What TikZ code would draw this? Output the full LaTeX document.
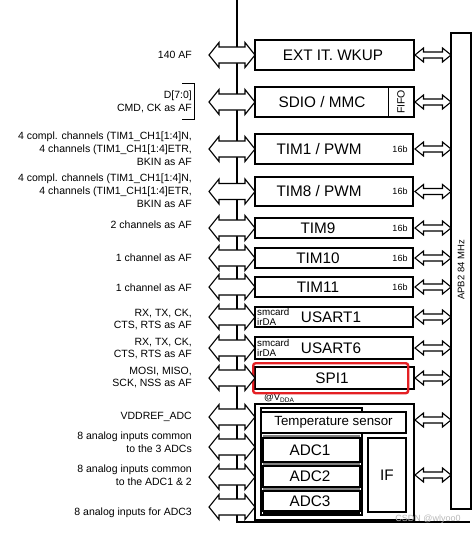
\documentclass[tikz,border=0pt]{standalone}
\usepackage{fontspec}
\setmainfont{Liberation Sans}
\usetikzlibrary{calc}
\definecolor{hred}{RGB}{228,32,36}
\definecolor{wm}{RGB}{185,185,185}
\tikzset{
  box/.style={draw, line width=1.2pt, fill=white, anchor=north west, inner sep=0pt, outer sep=0pt},
  btext/.style={inner sep=0pt, font=\fontsize{15.3}{15.3}\selectfont},
  lbl/.style={inner sep=0pt, anchor=east, align=right, font=\fontsize{10.5}{12.8}\selectfont},
  tiny/.style={inner sep=0pt, font=\fontsize{9}{9}\selectfont},
  smc/.style={inner sep=0pt, anchor=west, align=left, font=\fontsize{9.8}{9.8}\selectfont},
  blockarrow/.style={draw, fill=white, line width=1.1pt, line join=miter},
}
% double block arrow: from, to, head length, head half-height, shaft half-height
\newcommand\darrow[5]{%
  \path[blockarrow] let \p1=(#1), \p2=(#2) in
    (\x1,\y1) -- (\x1+#3,\y1+#4) -- (\x1+#3,\y1+#5) -- (\x2-#3,\y1+#5) --
    (\x2-#3,\y1+#4) -- (\x2,\y1) -- (\x2-#3,\y1-#4) -- (\x2-#3,\y1-#5) --
    (\x1+#3,\y1-#5) -- (\x1+#3,\y1-#4) -- cycle;}
\newcommand\leftarr[2]{\darrow{#1}{#2}{10pt}{12.5pt}{8pt}}
\newcommand\rightarr[2]{\darrow{#1}{#2}{8.5pt}{7pt}{3pt}}
\begin{document}
\begin{tikzpicture}[x=1pt,y=-1pt]
\useasboundingbox (0,0) rectangle (474,533);
% bus
\coordinate (bustop) at (237,0);
\coordinate (buscorner) at (237,522);
\coordinate (busend) at (470,522);
\draw[line width=1.8pt] (bustop) -- (buscorner) -- (busend);
% APB2 bar
\node[box, minimum width=20pt, minimum height=476pt] (apb) at (451,33) {};
\node[rotate=90, inner sep=0pt, font=\fontsize{9.5}{9.5}\selectfont] (apbl) at (461,270) {APB2 84 MHz};

% boxes
\node[box, minimum width=159pt, minimum height=30pt] (ext) at (255,40) {};
\node[box, minimum width=159pt, minimum height=30pt] (sdio) at (255,87) {};
\node[box, minimum width=158pt, minimum height=30pt] (tim1) at (255,134) {};
\node[box, minimum width=158pt, minimum height=29pt] (tim8) at (255,177) {};
\node[box, minimum width=158pt, minimum height=20pt] (tim9) at (255,218) {};
\node[box, minimum width=158pt, minimum height=20pt] (tim10) at (255,248) {};
\node[box, minimum width=158pt, minimum height=20pt] (tim11) at (255,277) {};
\node[box, minimum width=158pt, minimum height=20pt] (usart1) at (255,307) {};
\node[box, minimum width=158pt, minimum height=22pt] (usart6) at (255,337) {};
\node[box, minimum width=159pt, minimum height=22pt] (spi1) at (255,367) {};
\node[box, minimum width=159pt, minimum height=116pt] (adc) at (255,404) {};

% box texts
\node[btext] (t-ext) at (333,55) {EXT IT. WKUP};
\node[btext] (t-sdio) at (322,102) {SDIO / MMC};
\coordinate (fifotop) at (388,87);
\coordinate (fifobot) at (388,117);
\draw[line width=1pt] (fifotop) -- (fifobot);
\node[rotate=90, inner sep=0pt, font=\fontsize{10.5}{10.5}\selectfont] (fifo) at (401,102) {FIFO};
\node[btext] (t-tim1) at (319,149) {TIM1 / PWM};
\node[btext] (t-tim8) at (319,191.5) {TIM8 / PWM};
\node[btext] (t-tim9) at (318,228) {TIM9};
\node[btext] (t-tim10) at (318,258) {TIM10};
\node[btext] (t-tim11) at (318,287) {TIM11};
\node[btext] (t-usart1) at (331,317) {USART1};
\node[btext] (t-usart6) at (331,348) {USART6};
\node[btext] (t-spi1) at (332,378) {SPI1};
\foreach \k/\y in {b1/149,b8/191.5,b9/228,b10/258,b11/287}
  \node[tiny] (\k) at (400,\y) {16b};
\node[smc] (sm1) at (257,317) {smcard\\irDA};
\node[smc] (sm6) at (257,348) {smcard\\irDA};

% ADC block
\node[box, minimum width=101pt, minimum height=107pt] (adcstack) at (261,408) {};
\node[box, minimum width=145pt, minimum height=21pt] (temp) at (261,412) {};
\node[box, minimum width=97pt, minimum height=24pt, line width=1.1pt] (adc1) at (263,438) {};
\node[box, minimum width=97pt, minimum height=21pt, line width=1.1pt] (adc2) at (263,466) {};
\node[box, minimum width=97pt, minimum height=20pt, line width=1.1pt] (adc3) at (263,491) {};
\draw[gray, line width=1.3pt] ([yshift=2pt]adc1.north west) -- ([yshift=2pt]adc1.north east);
\draw[gray, line width=1.3pt] ([yshift=2pt]adc2.north west) -- ([yshift=2pt]adc2.north east);
\draw[gray, line width=1.3pt] ([yshift=2pt]adc3.north west) -- ([yshift=2pt]adc3.north east);
\draw[line width=1.1pt] ([yshift=-2pt]adc3.south west) -- ([yshift=-2pt]adc3.south east);
\node[box, minimum width=38pt, minimum height=74pt] (if) at (368,438) {};
\node[inner sep=0pt, font=\fontsize{13.3}{13.3}\selectfont] (t-temp) at (333.5,422.5) {Temperature sensor};
\node[btext] (t-adc1) at (310,450) {ADC1};
\node[btext] (t-adc2) at (310,476.5) {ADC2};
\node[btext] (t-adc3) at (310,501) {ADC3};
\node[btext] (t-if) at (387,475) {IF};
\node[inner sep=0pt, anchor=west, font=\fontsize{9.5}{9.5}\selectfont] (vdda) at (264,398) {@V\textsubscript{\fontsize{6.5}{6.5}\selectfont DDA}};

% highlight
\node[draw=hred, line width=2.4pt, rounded corners=2.5pt, minimum width=155pt, minimum height=30pt, anchor=north west, inner sep=0pt] (hl) at (252,362) {};

% left arrows
\foreach \k/\y in {ext/55,sdio/102,tim1/149,tim8/191.5,tim9/228,tim10/258,tim11/287,usart1/317,usart6/348,spi1/378}{
  \coordinate (L-\k) at (209,\y);
  \coordinate (B-\k) at (\k.west |- 0,\y);
  \leftarr{L-\k}{B-\k}
}
\foreach \i/\y in {1/417,2/447,3/477,4/507}{
  \coordinate (LA-\i) at (209,\y);
  \coordinate (BA-\i) at (adc.west |- 0,\y);
  \leftarr{LA-\i}{BA-\i}
}
% right arrows
\foreach \k/\y in {ext/55,sdio/102,tim1/149,tim8/191.5,tim9/228,tim10/258,tim11/287,usart1/317,usart6/348,spi1/378,temp/420,if/475}{
  \coordinate (R-\k) at (415,\y);
  \coordinate (P-\k) at (apb.west |- 0,\y);
  \rightarr{R-\k}{P-\k}
}

% left labels
\node[lbl] (l-ext) at (192,55) {140 AF};
\node[lbl] (l-sdio) at (192,101.5) {D[7:0]\\CMD, CK as AF};
\coordinate (brt) at (182,83);
\coordinate (brb) at (182,119);
\draw[line width=1pt] (brt) -- ++(12.5,0) |- (brb);
\node[lbl] (l-tim1) at (192,149) {4 compl. channels (TIM1\_CH1[1:4]N,\\4 channels (TIM1\_CH1[1:4]ETR,\\BKIN as AF};
\node[lbl] (l-tim8) at (192,191) {4 compl. channels (TIM1\_CH1[1:4]N,\\4 channels (TIM1\_CH1[1:4]ETR,\\BKIN as AF};
\node[lbl] (l-tim9) at (192,225) {2 channels as AF};
\node[lbl] (l-tim10) at (192,258) {1 channel as AF};
\node[lbl] (l-tim11) at (192,288) {1 channel as AF};
\node[lbl] (l-usart1) at (192,319.5) {RX, TX, CK,\\CTS, RTS as AF};
\node[lbl] (l-usart6) at (192,348.5) {RX, TX, CK,\\CTS, RTS as AF};
\node[lbl] (l-spi1) at (192,377.5) {MOSI, MISO,\\SCK, NSS as AF};
\node[lbl] (l-vref) at (192,417) {VDDREF\_ADC};
\node[lbl] (l-an1) at (192,442.5) {8 analog inputs common\\to the 3 ADCs};
\node[lbl] (l-an2) at (192,475.5) {8 analog inputs common\\to the ADC1 \& 2};
\node[lbl] (l-an3) at (192,513) {8 analog inputs for ADC3};

% watermark
\node[inner sep=0pt, text=wm, font=\fontsize{9}{9}\selectfont] (wmk) at (428,519) {CSDN @wlyoo0};
\end{tikzpicture}
\end{document}
